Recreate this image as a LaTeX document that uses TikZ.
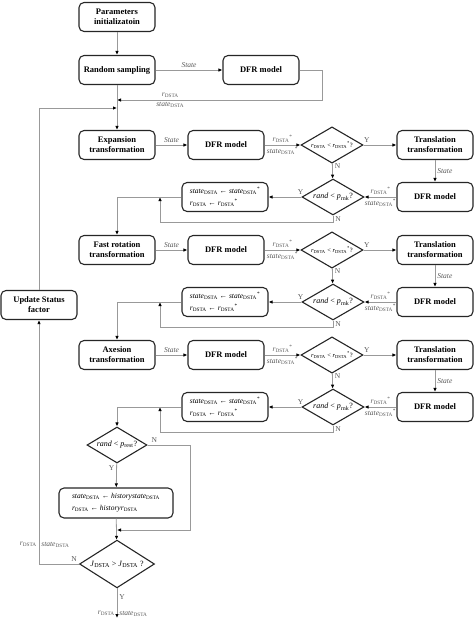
\documentclass[tikz,border=0pt]{standalone}
\usepackage{fontspec}
\setmainfont{Liberation Serif}
\usetikzlibrary{shapes.geometric,arrows.meta}
\newcommand{\dsta}{\textsubscript{DSTA}}
\newcommand{\rv}{\textit{r}\dsta}
\newcommand{\sv}{\textit{state}\dsta}
\begin{document}
\begin{tikzpicture}[x=1pt,y=-1pt,proc_node/.style={rectangle,rounded corners=5pt,draw=black!85,line width=1.1pt,fill=white,minimum width=76pt,minimum height=29pt,inner sep=1pt,align=center,font=\fontsize{8.5}{10}\selectfont\bfseries},upd_node/.style={rectangle,rounded corners=5pt,draw=black!85,line width=1.1pt,fill=white,minimum width=86pt,minimum height=29pt,inner sep=2pt,align=left,font=\fontsize{7.5}{12}\selectfont},test_node/.style={diamond,draw=black!85,line width=1.1pt,fill=white,inner sep=-3pt,minimum width=62pt,minimum height=36pt,font=\fontsize{8}{9}\selectfont},link/.style={draw=black!40,line width=0.8pt,-{Latex[length=4pt,width=3.5pt,color=black]}},lab_node/.style={text=black!65,font=\fontsize{7.5}{8}\selectfont,inner sep=2pt}]

		\useasboundingbox (0,0) rectangle (474,641);

		\node[proc_node] (init) at (117,17) {Parameters\\initializatoin};
		\node[proc_node] (rs) at (117,70) {Random sampling};
		\node[proc_node] (dfr0) at (261,70) {DFR model};

		\node[proc_node] (tr1) at (117,145) {Expansion\\transformation};
		\node[proc_node] (dfr1) at (226,145) {DFR model};
		\node[test_node] (da1) at (332,145) {\fontsize{6.5}{7}\selectfont\rv{} < \rv\textsuperscript{*}?};
		\node[proc_node] (tt1) at (435,145) {Translation\\transformation};
		\node[test_node] (db1) at (333,197) {\textit{rand} < \textit{p}\textsubscript{rnk}?};
		\node[proc_node] (dfrb1) at (435,197) {DFR model};
		\node[upd_node] (up1) at (225,197) {\sv{} ← \sv\textsuperscript{*}\\\rv{} ← \rv\textsuperscript{*}};

		\node[proc_node] (tr2) at (117,250) {Fast rotation\\transformation};
		\node[proc_node] (dfr2) at (226,250) {DFR model};
		\node[test_node] (da2) at (332,250) {\fontsize{6.5}{7}\selectfont\rv{} < \rv\textsuperscript{*}?};
		\node[proc_node] (tt2) at (435,250) {Translation\\transformation};
		\node[test_node] (db2) at (333,302) {\textit{rand} < \textit{p}\textsubscript{rnk}?};
		\node[proc_node] (dfrb2) at (435,302) {DFR model};
		\node[upd_node] (up2) at (225,302) {\sv{} ← \sv\textsuperscript{*}\\\rv{} ← \rv\textsuperscript{*}};

		\node[proc_node] (tr3) at (117,355) {Axesion\\transformation};
		\node[proc_node] (dfr3) at (226,355) {DFR model};
		\node[test_node] (da3) at (332,355) {\fontsize{6.5}{7}\selectfont\rv{} < \rv\textsuperscript{*}?};
		\node[proc_node] (tt3) at (435,355) {Translation\\transformation};
		\node[test_node] (db3) at (333,407) {\textit{rand} < \textit{p}\textsubscript{rnk}?};
		\node[proc_node] (dfrb3) at (435,407) {DFR model};
		\node[upd_node] (up3) at (225,407) {\sv{} ← \sv\textsuperscript{*}\\\rv{} ← \rv\textsuperscript{*}};

		\node[proc_node] (usf) at (39,305) {Update Status\\factor};
		\node[test_node,minimum width=60pt] (d3) at (117,445) {\textit{rand} < \textit{p}\textsubscript{rest}?};
		\node[upd_node,minimum width=114pt,minimum height=30pt] (hist) at (116,503) {\sv{} ← \textit{historystate}\dsta\\\rv{} ← \textit{historyr}\dsta};
		\node[test_node,minimum width=75pt,minimum height=45pt] (d4) at (117,564) {\textit{J}\dsta{} > \textit{J}\dsta{} ?};

		\coordinate (k0) at (322,100);
		\coordinate (m0) at (117,100);
		\coordinate (m1) at (117,108);
		\coordinate (j1) at (160,197);
		\coordinate (b1) at (160,222);
		\coordinate (j2) at (160,302);
		\coordinate (b2) at (160,327);
		\coordinate (j3) at (160,407);
		\coordinate (b3) at (160,432);
		\coordinate (c3) at (190,530);
		\coordinate (m3) at (117,530);
		\coordinate (out) at (117,618);

		\draw[link] (init) -- (rs);
		\draw[link] (rs) -- node[lab_node,above]{\textit{State}} (dfr0);
		\draw[link] (dfr0) -| (k0) -- node[lab_node,above,pos=0.74]{\rv} node[lab_node,below,pos=0.74]{\sv} (m0);
		\draw[link] (usf) |- (m1);
		\draw[link] (rs) -- (tr1);

		\draw[link] (tr1) -- node[lab_node,above]{\textit{State}} (dfr1);
		\draw[link] (dfr1) -- node[lab_node,above]{\rv\textsuperscript{*}} node[lab_node,below]{\sv\textsuperscript{*}} (da1);
		\draw[link] (da1) -- node[lab_node,above,pos=0.1]{Y} (tt1);
		\draw[link] (da1) -- node[lab_node,right,pos=0.15]{N} (db1);
		\draw[link] (tt1) -- node[lab_node,right]{\textit{State}} (dfrb1);
		\draw[link] (dfrb1) -- node[lab_node,above]{\rv\textsuperscript{*}} node[lab_node,below]{\sv\textsuperscript{*}} (db1);
		\draw[link] (db1) -- node[lab_node,above,pos=0.03]{Y} (up1);
		\draw[link] (db1) |- node[lab_node,right,pos=0.3]{N} (b1) -- (j1);
		\draw[link] (up1) -| (tr2);

		\draw[link] (tr2) -- node[lab_node,above]{\textit{State}} (dfr2);
		\draw[link] (dfr2) -- node[lab_node,above]{\rv\textsuperscript{*}} node[lab_node,below]{\sv\textsuperscript{*}} (da2);
		\draw[link] (da2) -- node[lab_node,above,pos=0.1]{Y} (tt2);
		\draw[link] (da2) -- node[lab_node,right,pos=0.15]{N} (db2);
		\draw[link] (tt2) -- node[lab_node,right]{\textit{State}} (dfrb2);
		\draw[link] (dfrb2) -- node[lab_node,above]{\rv\textsuperscript{*}} node[lab_node,below]{\sv\textsuperscript{*}} (db2);
		\draw[link] (db2) -- node[lab_node,above,pos=0.03]{Y} (up2);
		\draw[link] (db2) |- node[lab_node,right,pos=0.3]{N} (b2) -- (j2);
		\draw[link] (up2) -| (tr3);

		\draw[link] (tr3) -- node[lab_node,above]{\textit{State}} (dfr3);
		\draw[link] (dfr3) -- node[lab_node,above]{\rv\textsuperscript{*}} node[lab_node,below]{\sv\textsuperscript{*}} (da3);
		\draw[link] (da3) -- node[lab_node,above,pos=0.1]{Y} (tt3);
		\draw[link] (da3) -- node[lab_node,right,pos=0.15]{N} (db3);
		\draw[link] (tt3) -- node[lab_node,right]{\textit{State}} (dfrb3);
		\draw[link] (dfrb3) -- node[lab_node,above]{\rv\textsuperscript{*}} node[lab_node,below]{\sv\textsuperscript{*}} (db3);
		\draw[link] (db3) -- node[lab_node,above,pos=0.03]{Y} (up3);
		\draw[link] (db3) |- node[lab_node,right,pos=0.3]{N} (b3) -- (j3);
		\draw[link] (up3) -| (d3);

		\draw[link] (d3) -- node[lab_node,left,pos=0.2]{Y} (hist);
		\draw[link] (d3) -| node[lab_node,above,pos=0.08]{N} (c3) -- (m3);
		\draw[link] (hist) -- (d4);
		\draw[link] (d4) -| node[lab_node,above,pos=0.06]{N} node[lab_node,left,pos=0.54]{\rv} node[lab_node,right,pos=0.54]{\sv} (usf);
		\draw[link] (d4) -- node[lab_node,right,pos=0.3]{Y} node[lab_node,left,pos=0.85]{\rv} node[lab_node,right,pos=0.85]{\sv} (out);
		\end{tikzpicture}
\end{document}
